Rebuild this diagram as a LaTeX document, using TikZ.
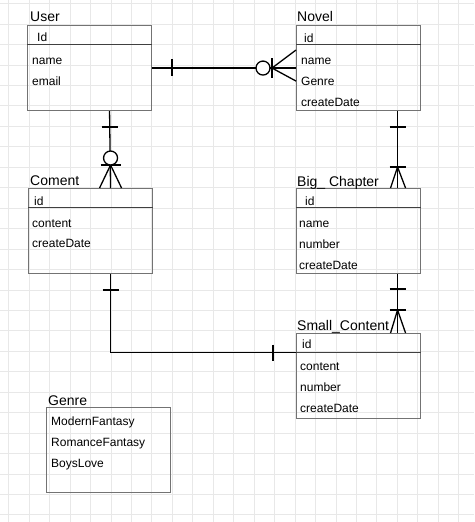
\documentclass[tikz,border=0pt]{standalone}
\usepackage{fontspec}
\setmainfont{Liberation Sans}
\usetikzlibrary{calc}

\tikzset{
  entity/.style={draw=black!55, line width=1.1pt, minimum width=124pt, minimum height=85pt, anchor=north west, inner sep=0pt},
  boxline/.style={draw=black!75, line width=1.1pt},
  title/.style={anchor=base west, inner sep=0pt, font=\fontsize{14}{16}\selectfont},
  attr/.style={anchor=base west, inner sep=0pt, font=\fontsize{12}{14}\selectfont},
  rel/.style={line width=1.3pt},
  gridline/.style={draw=black!9, line width=0.6pt}
}

\begin{document}
\begin{tikzpicture}[x=1pt, y=-1pt]
    \useasboundingbox (0,0) rectangle (474,522);

    % Grid paper
    \foreach \k in {0,...,22} \draw[gridline] (8.6+20.45*\k,0) -- (8.6+20.45*\k,522);
    \foreach \k in {0,...,25} \draw[gridline] (0,3.5+20.45*\k) -- (474,3.5+20.45*\k);

    % Entities
    \node[entity] (user) at (27,25) {};
    \node[entity] (novel) at (296,25) {};
    \node[entity] (coment) at (28,188) {};
    \node[entity] (bigchapter) at (296,188) {};
    \node[entity] (smallcontent) at (296,333) {};
    \node[entity] (genre) at (46,407) {};

    % Header lines
    \foreach \e in {user,novel,coment,bigchapter,smallcontent}
        \draw[boxline] ($(\e.north west)+(0,19.5)$) -- ($(\e.north east)+(0,19.5)$);
    \coordinate (smallcontent-h) at ($(smallcontent.north west)+(0,19.5)$);

    % Titles
    \node[title] (user-t) at ($(user.north west)+(3,-4)$) {User};
    \node[title] (novel-t) at ($(novel.north west)+(1,-4)$) {Novel};
    \node[title] (coment-t) at ($(coment.north west)+(2,-3)$) {Coment};
    \node[title] (bigchapter-t) at ($(bigchapter.north west)+(1,-2)$) {Big\_ Chapter};
    \node[title] (smallcontent-t) at ($(smallcontent.north west)+(1,-3)$) {Small\_Content};
    \node[title] (genre-t) at ($(genre.north west)+(2,-2)$) {Genre};

    % Attributes
    \node[attr] (user-id) at ($(user.north west)+(10,16)$) {Id};
    \foreach \a [count=\i] in {name,email}
        \node[attr] (user-\i) at ($(user.north west)+(5,18+21*\i)$) {\a};
    \node[attr] (novel-id) at ($(novel.north west)+(8,17)$) {id};
    \foreach \a [count=\i] in {name,Genre,createDate}
        \node[attr] (novel-\i) at ($(novel.north west)+(5,18+21*\i)$) {\a};
    \node[attr] (coment-id) at ($(coment.north west)+(6,17)$) {id};
    \foreach \a [count=\i] in {content,createDate}
        \node[attr] (coment-\i) at ($(coment.north west)+(4,19+20*\i)$) {\a};
    \node[attr] (bigchapter-id) at ($(bigchapter.north west)+(9,17)$) {id};
    \foreach \a [count=\i] in {name,number,createDate}
        \node[attr] (bigchapter-\i) at ($(bigchapter.north west)+(3,18+21*\i)$) {\a};
    \node[attr] (smallcontent-id) at ($(smallcontent.north west)+(6,15)$) {id};
    \foreach \a [count=\i] in {content,number,createDate}
        \node[attr] (smallcontent-\i) at ($(smallcontent.north west)+(4,16+21*\i)$) {\a};
    \foreach \a [count=\i] in {ModernFantasy,RomanceFantasy,BoysLove}
        \node[attr] (genre-\i) at ($(genre.north west)+(5,-3+21*\i)$) {\a};

    % User -- Novel
    \draw[rel] (user.east) -- (novel.west);
    \draw[rel] ($(user.east)+(20,-9)$) -- ++(0,17);
    \draw[rel] ($(novel.west)+(-24,-10)$) -- ++(0,20);
    \draw[rel] ($(novel.west)+(-24,0)$) -- ($(novel.west)+(0,-18)$);
    \draw[rel] ($(novel.west)+(-24,0)$) -- ($(novel.west)+(0,13)$);
    \draw[rel, fill=white] ($(novel.west)+(-33,0)$) circle[radius=7];

    % User -- Coment
    \draw[rel] ($(user.south)+(20,0)$) -- ($(coment.north)+(20,0)$);
    \draw[rel] ($(user.south)+(12,16)$) -- ++(16,0);
    \draw[rel] ($(coment.north)+(10,-23)$) -- ++(20,0);
    \draw[rel] ($(coment.north)+(20,-23)$) -- ($(coment.north)+(9,0)$);
    \draw[rel] ($(coment.north)+(20,-23)$) -- ($(coment.north)+(31,0)$);
    \draw[rel, fill=white] ($(coment.north)+(20,-30)$) circle[radius=7];

    % Novel -- Big_Chapter
    \draw[rel] ($(novel.south)+(39,0)$) -- ($(bigchapter.north)+(39,0)$);
    \draw[rel] ($(novel.south)+(31,16)$) -- ++(16,0);
    \draw[rel] ($(bigchapter.north)+(31,-21)$) -- ++(16,0);
    \draw[rel] ($(bigchapter.north)+(39,-21)$) -- ($(bigchapter.north)+(32,0)$);
    \draw[rel] ($(bigchapter.north)+(39,-21)$) -- ($(bigchapter.north)+(47,0)$);

    % Big_Chapter -- Small_Content
    \draw[rel] ($(bigchapter.south)+(39,0)$) -- ($(smallcontent.north)+(39,0)$);
    \draw[rel] ($(bigchapter.south)+(31,15)$) -- ++(16,0);
    \draw[rel] ($(smallcontent.north)+(31,-23)$) -- ++(16,0);
    \draw[rel] ($(smallcontent.north)+(39,-23)$) -- ($(smallcontent.north)+(32,0)$);
    \draw[rel] ($(smallcontent.north)+(39,-23)$) -- ($(smallcontent.north)+(47,0)$);

    % Coment -- Small_Content
    \draw[rel] ($(coment.south)+(20,0)$) |- (smallcontent-h);
    \draw[rel] ($(coment.south)+(12,16)$) -- ++(16,0);
    \draw[rel] ($(smallcontent-h)+(-23,-8)$) -- ++(0,16);
\end{tikzpicture}
\end{document}
